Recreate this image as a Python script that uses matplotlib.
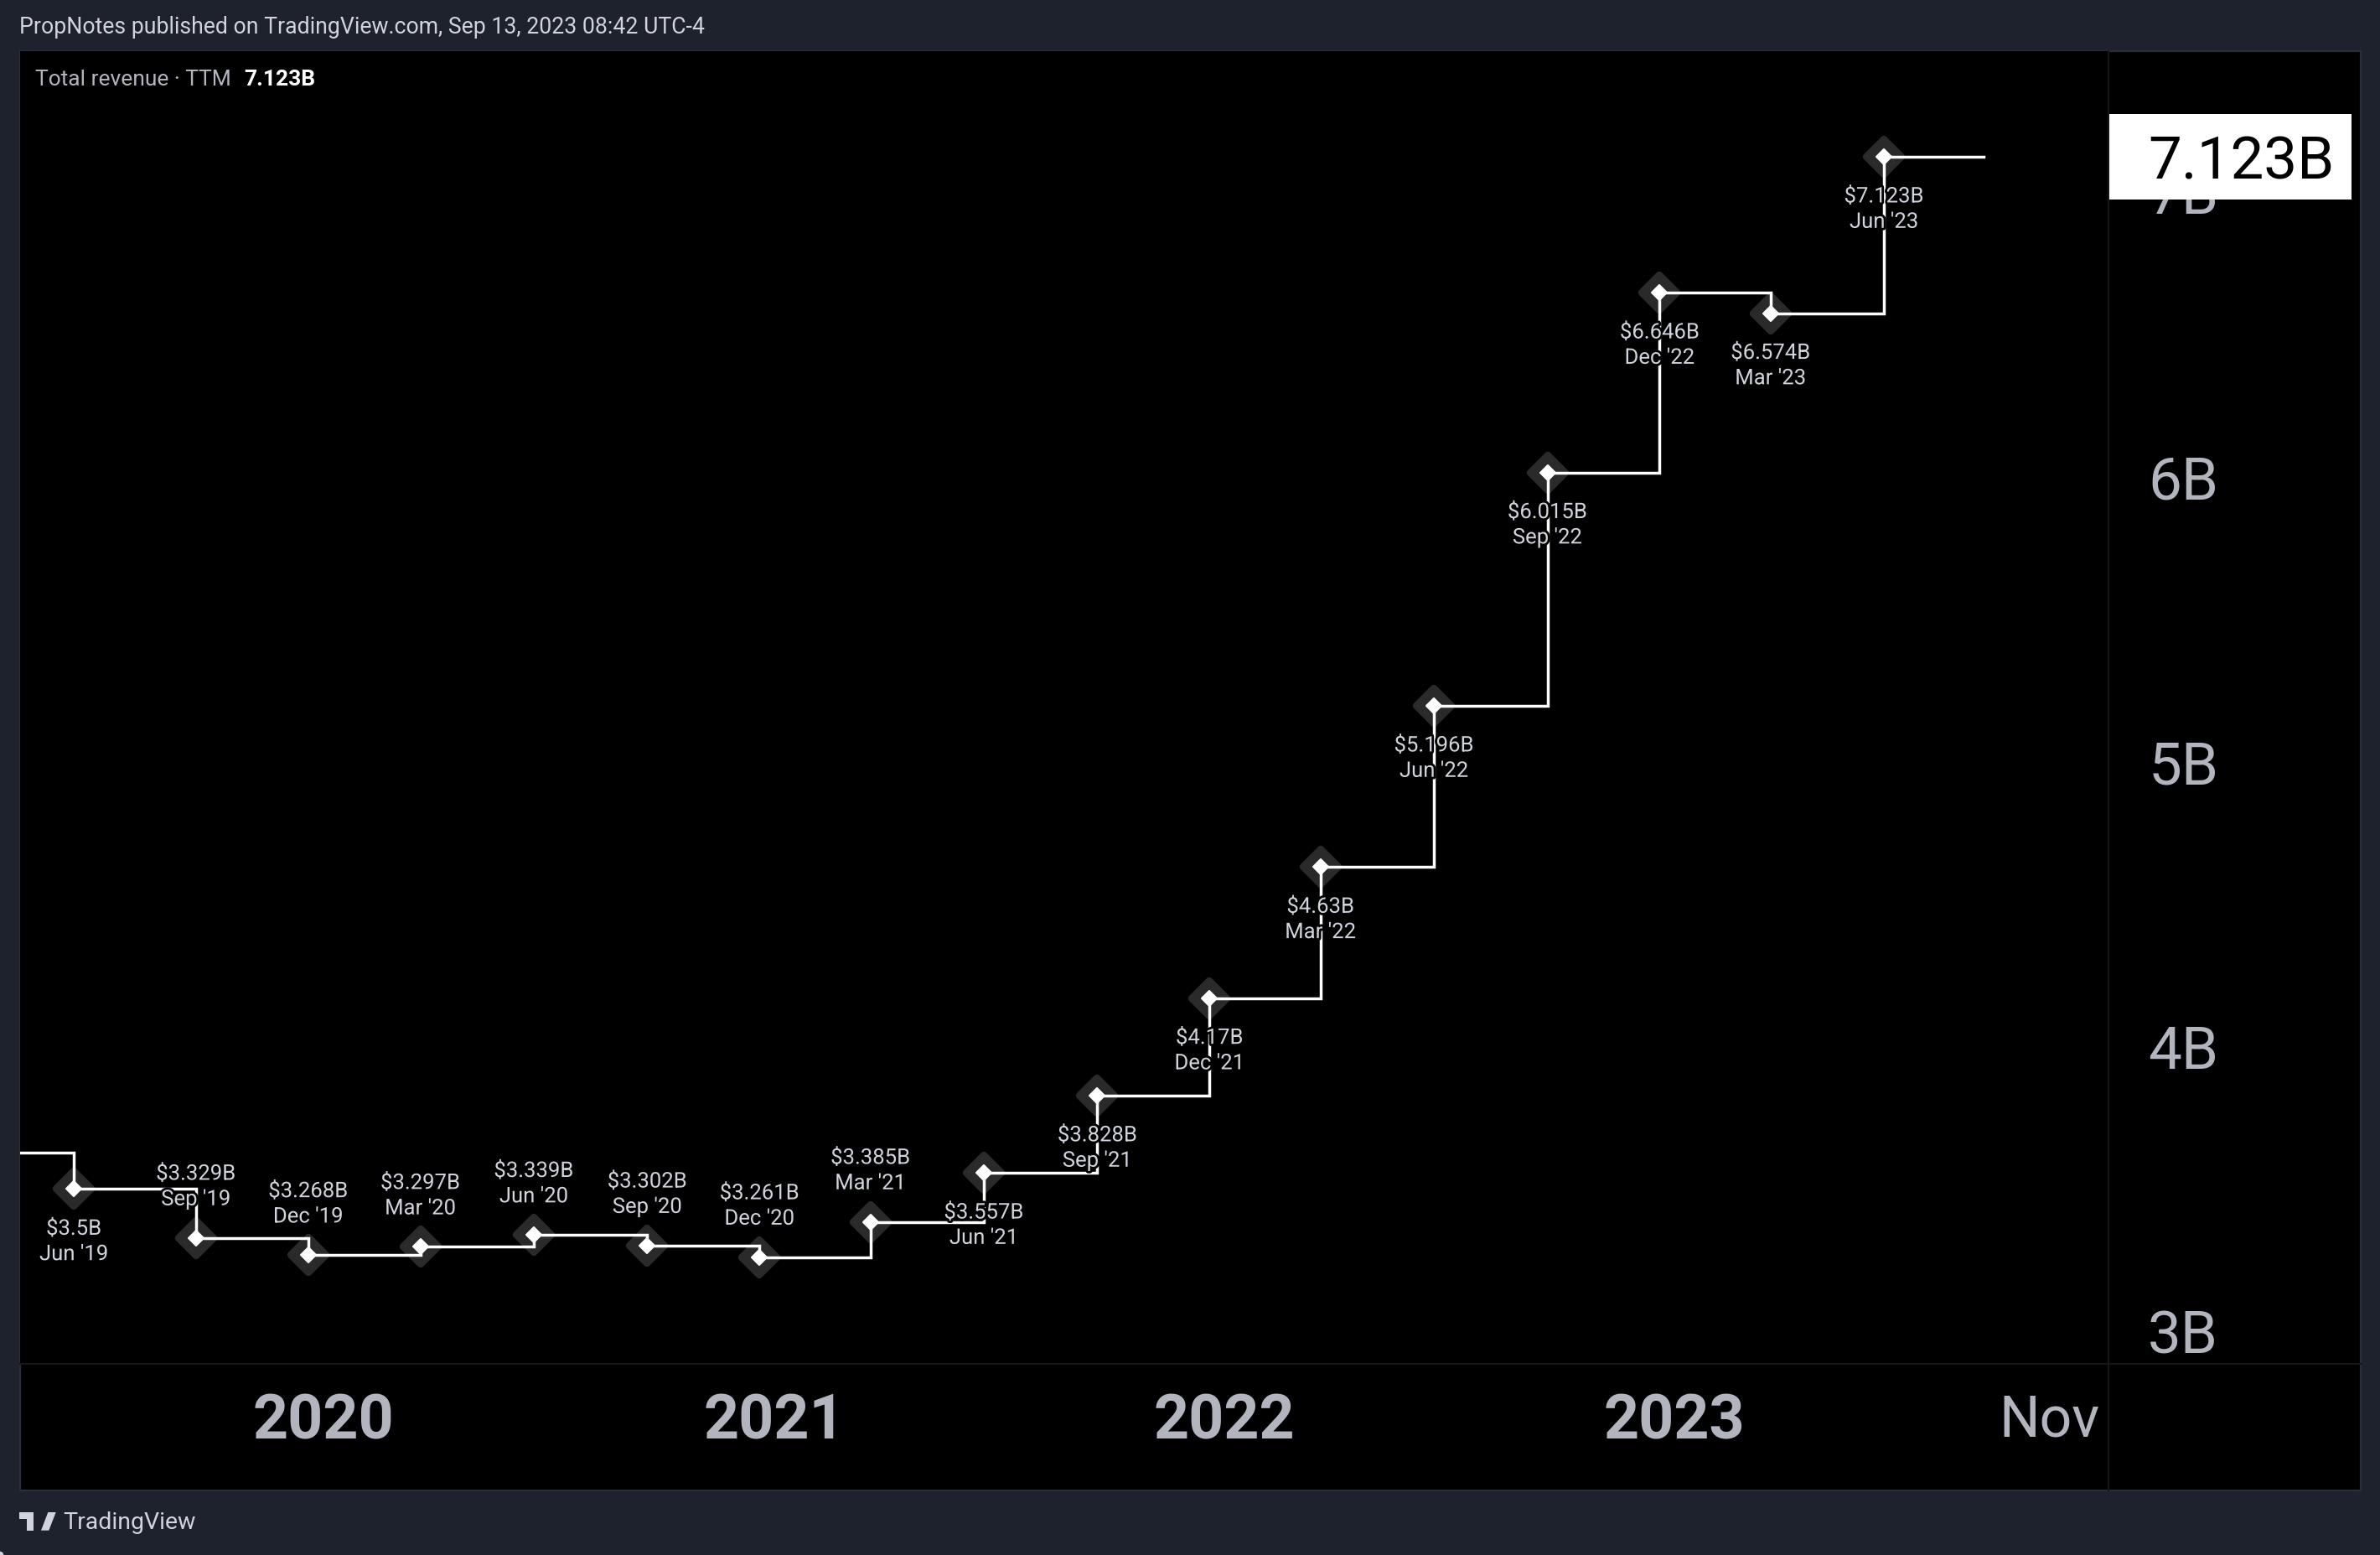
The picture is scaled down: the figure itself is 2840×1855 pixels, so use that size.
import matplotlib
matplotlib.use("Agg")
import matplotlib.pyplot as plt
import matplotlib.dates as mdates
import matplotlib.patheffects as pe
from matplotlib.markers import MarkerStyle
from matplotlib.patches import Rectangle, Polygon, Circle, FancyBboxPatch
from matplotlib.lines import Line2D
from matplotlib.transforms import blended_transform_factory
import pandas as pd

# ---------------- data ----------------
period_dates = ["2019-03-20", "2019-06-13", "2019-09-20", "2019-12-20",
                "2020-03-20", "2020-06-20", "2020-09-20", "2020-12-20",
                "2021-03-20", "2021-06-20", "2021-09-20", "2021-12-20",
                "2022-03-20", "2022-06-20", "2022-09-20", "2022-12-20",
                "2023-03-20", "2023-06-20"]
period_labels = ["Mar '19", "Jun '19", "Sep '19", "Dec '19",
                 "Mar '20", "Jun '20", "Sep '20", "Dec '20",
                 "Mar '21", "Jun '21", "Sep '21", "Dec '21",
                 "Mar '22", "Jun '22", "Sep '22", "Dec '22",
                 "Mar '23", "Jun '23"]
revenue_b = [3.629, 3.5, 3.329, 3.268,
             3.297, 3.339, 3.302, 3.261,
             3.385, 3.557, 3.828, 4.17,
             4.63, 5.196, 6.015, 6.646,
             6.574, 7.123]
line_end_date = "2023-09-09"
labels_above = ["Sep '19", "Dec '19", "Mar '20", "Jun '20", "Sep '20", "Dec '20", "Mar '21"]

x_ticks = ["2020-01-01", "2021-01-01", "2022-01-01", "2023-01-01", "2023-11-01"]
x_tick_labels = ["2020", "2021", "2022", "2023", "Nov"]
y_ticks = [3, 4, 5, 6, 7]
y_tick_labels = ["3B", "4B", "5B", "6B", "7B"]
x_range = ["2019-04-30", "2023-12-19"]
y_range = [2.8864, 7.4937]

header = "PropNotes published on TradingView.com, Sep 13, 2023 08:42 UTC-4"
legend_name = "Total revenue \u00b7 TTM"
last_label = "7.123B"

# ---------------- style ----------------
W, H = 2840, 1855
DPI = 100
BG = "#1E222D"
FRAME = "#2A2E39"
SEP = "#161616"
AXIS_TXT = "#B2B5BE"
LABEL_TXT = "#D1D4DC"
plt.rcParams["font.family"] = ["Roboto", "DejaVu Sans"]


def fx(px):
    return px / W


def fy(py):
    return 1 - py / H


fig = plt.figure(figsize=(W / DPI, H / DPI), dpi=DPI, facecolor=BG)

# chart frame (black)
fig.patches.append(Rectangle((fx(23.5), fy(1778)), fx(2817) - fx(23.5), fy(61) - fy(1778),
                             transform=fig.transFigure, facecolor="black",
                             edgecolor=FRAME, linewidth=1.6, zorder=-5))

ax = fig.add_axes([fx(23.5), fy(1627), fx(2516) - fx(23.5), fy(61) - fy(1627)])
ax.set_facecolor("black")
for s in ax.spines.values():
    s.set_visible(False)

dates = pd.to_datetime(period_dates)
xs = mdates.date2num(dates)
x_end = mdates.date2num(pd.Timestamp(line_end_date))

# step line
line_x = list(xs) + [x_end]
line_y = list(revenue_b) + [revenue_b[-1]]

ax.plot(xs, revenue_b, linestyle="none",
        marker=MarkerStyle("D", joinstyle="round"), markersize=21,
        markerfacecolor="#2A2A2A", markeredgecolor="#2A2A2A", markeredgewidth=6, zorder=2)
ax.plot(line_x, line_y, drawstyle="steps-post", color="white", linewidth=2.5,
        solid_joinstyle="miter", zorder=3)
ax.plot(xs, revenue_b, linestyle="none",
        marker=MarkerStyle("D", joinstyle="round"), markersize=9,
        markerfacecolor="white", markeredgecolor="white", markeredgewidth=1.5, zorder=4)

x0 = mdates.date2num(pd.Timestamp(x_range[0]))
x1 = mdates.date2num(pd.Timestamp(x_range[1]))
ax.set_xlim(x0, x1)
ax.set_ylim(*y_range)

stroke = [pe.withStroke(linewidth=4, foreground="black")]
for xv, yv, lab in zip(xs, revenue_b, period_labels):
    if xv < x0:
        continue
    vtxt = f"${yv:g}B"
    if lab in labels_above:
        offs = (-55, -33)
    else:
        offs = (34, 56)
    for txt, off in zip((vtxt, lab), offs):
        ax.annotate(txt, (xv, yv), xytext=(0, -off), textcoords="offset points",
                    ha="center", va="center", fontsize=18.5, color=LABEL_TXT,
                    path_effects=stroke, zorder=6, annotation_clip=False)

# axes ticks
ax.set_xticks(mdates.date2num(pd.to_datetime(x_ticks)))
ax.set_xticklabels(x_tick_labels)
ax.yaxis.tick_right()
ax.set_yticks(y_ticks)
ax.set_yticklabels(y_tick_labels)
ax.tick_params(axis="x", length=0, pad=25, labelsize=53, labelcolor=AXIS_TXT)
ax.tick_params(axis="y", length=0, pad=34, labelsize=51, labelcolor=AXIS_TXT)
for lbl in ax.get_xticklabels():
    if lbl.get_text() != "Nov":
        lbl.set_fontweight("bold")
    else:
        lbl.set_fontsize(49)
ax.grid(False)

# separators
fig.add_artist(Line2D([fx(2516), fx(2516)], [fy(61), fy(1778)], transform=fig.transFigure,
                      color=SEP, linewidth=1.6, zorder=1))
fig.add_artist(Line2D([fx(23.5), fx(2817)], [fy(1627), fy(1627)], transform=fig.transFigure,
                      color=SEP, linewidth=1.6, zorder=1))

# last-value label box on price scale
bt = blended_transform_factory(fig.transFigure, ax.transData)
box_h = 102 / ((fy(61) - fy(1627)) * H) * (y_range[1] - y_range[0])
fig.add_artist(FancyBboxPatch((fx(2517), revenue_b[-1] - box_h / 2), fx(2806) - fx(2517), box_h,
                              boxstyle="square,pad=0", transform=bt, facecolor="white",
                              edgecolor="white", linewidth=0, zorder=5))
fig.add_artist(plt.Text(fx(2563), revenue_b[-1], last_label, transform=bt, ha="left",
                        va="center_baseline", fontsize=51, color="black", zorder=6))

# header and legend
fig.text(fx(23), fy(33), header, ha="left", va="center", fontsize=19.2, color=LABEL_TXT)
t1 = fig.text(fx(42), fy(95), legend_name, ha="left", va="center", fontsize=19, color=AXIS_TXT)
renderer = fig.canvas.get_renderer()
bb = t1.get_window_extent(renderer=renderer)
fig.text((bb.x1 + 15) / W, fy(95), last_label, ha="left", va="center", fontsize=19,
         color="white", fontweight="bold")

# TradingView logo
LOGO = "#D1D4DC"
def P(px, py):
    return (fx(px), fy(py))
fig.add_artist(Polygon([P(22.7, 1804), P(40, 1804), P(40, 1825.7), P(31.7, 1825.7),
                        P(31.7, 1811.7), P(22.7, 1811.7)], closed=True,
                       transform=fig.transFigure, facecolor=LOGO, edgecolor="none"))
fig.add_artist(Polygon([P(57.3, 1804), P(66.7, 1804), P(58.3, 1825.7), P(49, 1825.7)],
                       closed=True, transform=fig.transFigure, facecolor=LOGO, edgecolor="none"))
fig.add_artist(Circle(P(49, 1808.2), 4.2, transform=None, facecolor=LOGO, edgecolor="none"))
fig.text(fx(75), fy(1816), "TradingView", ha="left", va="center", fontsize=20.5, color=LOGO)

fig.savefig("out.png", dpi=DPI, facecolor=BG)
